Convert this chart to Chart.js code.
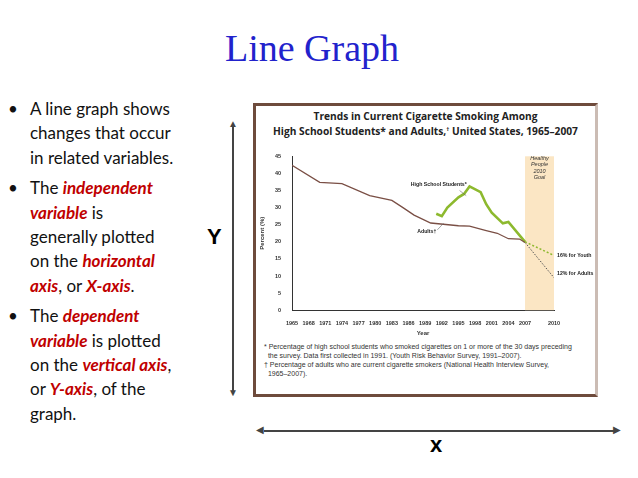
<!DOCTYPE html>
<html><head><meta charset="utf-8">
<script src="https://cdn.jsdelivr.net/npm/chart.js@4"></script>
<style>
body{margin:0;width:638px;height:478px;background:#fff;position:relative;overflow:hidden;font-family:Lato,"Open Sans",sans-serif}
#title{position:absolute;left:0;width:624px;top:26px;text-align:center;font-family:"Liberation Serif",serif;font-size:38px;color:#2222cc}
#bul{position:absolute;left:8px;top:97px;width:220px;font-size:17px;line-height:24.4px;color:#111;white-space:nowrap}
#bul .b{position:relative;padding-left:22px;margin-bottom:6px}
#bul .b:before{content:"•";position:absolute;left:0;top:0}
.r{color:#c00000;font-weight:bold;font-style:italic}
#box{position:absolute;left:253px;top:103px;width:339px;height:288px;border:3px solid #6e4b3c;border-right-color:#cbbcb4}
#ct{position:absolute;left:0;top:4px;width:339px;text-align:center;font-family:"Open Sans",sans-serif;font-weight:bold;font-size:10.2px;line-height:13px;color:#222}
#cw{position:absolute;left:2px;top:44px;width:336px;height:188px}
#fn{position:absolute;left:8px;top:236px;width:330px;font-family:"Liberation Sans",sans-serif;font-size:7px;line-height:9px;color:#333;white-space:nowrap}
.ar{position:absolute;background:#444}
</style></head><body>
<div id="title">Line Graph</div>
<div id="bul">
<div class="b">A line graph shows<br>changes that occur<br>in related variables.</div>
<div class="b">The <span class="r">independent</span><br><span class="r">variable</span> is<br>generally plotted<br>on the <span class="r">horizontal</span><br><span class="r">axis</span>, or <span class="r">X-axis</span>.</div>
<div class="b">The <span class="r">dependent</span><br><span class="r">variable</span> is plotted<br>on the <span class="r">vertical axis</span>,<br>or <span class="r">Y-axis</span>, of the<br>graph.</div>
</div>
<div class="ar" style="left:232px;top:124px;width:1.5px;height:270px"></div>
<div style="position:absolute;left:228px;top:117px;font-size:10px;color:#444">▲</div>
<div style="position:absolute;left:228px;top:386px;font-size:10px;color:#444">▼</div>
<div style="position:absolute;left:207px;top:224px;font-size:22px;font-weight:bold;font-family:'Liberation Sans',sans-serif">Y</div>
<div class="ar" style="left:264px;top:430px;width:352px;height:1.5px"></div>
<div style="position:absolute;left:256px;top:423px;font-size:10px;color:#444">◀</div>
<div style="position:absolute;left:613px;top:423px;font-size:10px;color:#444">▶</div>
<div style="position:absolute;left:430px;top:432px;font-size:22px;font-weight:bold;font-family:'Liberation Sans',sans-serif">x</div>
<div id="box">
<div id="ct">Trends in Current Cigarette Smoking Among<br>High School Students* and Adults,<sup style="font-size:6px">†</sup> United States, 1965–2007</div>
<div id="cw"><canvas id="c"></canvas></div>
<div id="fn">* Percentage of high school students who smoked cigarettes on 1 or more of the 30 days preceding<br>&nbsp;&nbsp;the survey. Data first collected in 1991. (Youth Risk Behavior Survey, 1991–2007).<br>† Percentage of adults who are current cigarette smokers (National Health Interview Survey,<br>&nbsp;&nbsp;1965–2007).</div>
</div>
<script>
const tickYears=[1965,1968,1971,1974,1977,1980,1983,1986,1989,1992,1995,1998,2001,2004,2007,2010];
const adultYears=[1965,1970,1974,1979,1983,1985,1987,1990,1995,1997,2000,2002,2004,2006,2007];
const adultVals=[42.4,37.4,37.0,33.5,32.1,30.0,27.8,25.5,24.7,24.6,23.3,22.5,20.9,20.8,19.8];
const youthYears=[1991,1992,1993,1995,1996,1997,1999,2000,2001,2003,2004,2007];
const youthVals=[28.2,27.5,30.0,33.0,34.0,36.2,34.5,31.0,28.5,25.4,25.8,20.0];
const projYears=[2007,2010];
const youthGoal=[20.0,16.0];
const adultGoal=[19.8,9.5];
const yTicks=[0,5,10,15,20,25,30,35,40,45];
function sx(y){return y<=2007?(y-1965)/3:14+(y-2007)/3*1.74;}
const pts=(ys,vs)=>ys.map((y,i)=>({x:sx(y),y:vs[i]}));
const deco={id:'deco',beforeDatasetsDraw(ch){const {ctx,scales:{x,y}}=ch;
 ctx.save();ctx.fillStyle='#fbe6c4';const a=x.getPixelForValue(sx(2007)),b=x.getPixelForValue(sx(2010));
 ctx.fillRect(a,y.getPixelForValue(45),b-a,y.getPixelForValue(0)-y.getPixelForValue(45));ctx.restore();},
 afterDatasetsDraw(ch){const {ctx,scales:{x,y}}=ch;ctx.save();
 ctx.fillStyle='#333';ctx.font='italic 5.5px "Liberation Sans"';ctx.textAlign='center';
 const cx=(x.getPixelForValue(sx(2007))+x.getPixelForValue(sx(2010)))/2;
 ['Healthy','People','2010','Goal'].forEach((t,i)=>ctx.fillText(t,cx,y.getPixelForValue(44)+i*6.5));
 ctx.font='bold 5.2px "Liberation Sans"';ctx.textAlign='left';ctx.fillStyle='#222';
 ctx.fillText('16% for Youth',x.getPixelForValue(sx(2010))+3,y.getPixelForValue(16)+2);
 ctx.fillText('12% for Adults',x.getPixelForValue(sx(2010))+3,y.getPixelForValue(11)+2);
 ctx.textAlign='right';
 ctx.fillText('High School Students*',x.getPixelForValue(sx(1996.5)),y.getPixelForValue(36.2));
 ctx.fillText('Adults†',x.getPixelForValue(sx(1991)),y.getPixelForValue(22.6));
 ctx.strokeStyle='#666';ctx.lineWidth=0.6;ctx.beginPath();
 ctx.moveTo(x.getPixelForValue(sx(1995.2)),y.getPixelForValue(35));ctx.lineTo(x.getPixelForValue(sx(1996.4)),y.getPixelForValue(33.5));
 ctx.moveTo(x.getPixelForValue(sx(1991.2)),y.getPixelForValue(23.5));ctx.lineTo(x.getPixelForValue(sx(1992.3)),y.getPixelForValue(25.4));ctx.stroke();
 ctx.restore();}};
new Chart(document.getElementById('c'),{type:'scatter',
 data:{datasets:[
  {data:pts(adultYears,adultVals),showLine:true,borderColor:'#7a4f45',borderWidth:1.3,pointRadius:0,tension:0},
  {data:pts(youthYears,youthVals),showLine:true,borderColor:'#8db92e',borderWidth:2.6,pointRadius:0,tension:0},
  {data:pts(projYears,youthGoal),showLine:true,borderColor:'#8db92e',borderWidth:1.5,borderDash:[2,2],pointRadius:0},
  {data:pts(projYears,adultGoal),showLine:true,borderColor:'#555',borderWidth:1,borderDash:[1.5,1.5],pointRadius:0}]},
 options:{animation:false,responsive:true,maintainAspectRatio:false,
  layout:{padding:{top:5,right:40,left:0,bottom:0}},
  plugins:{legend:{display:false},tooltip:{enabled:false}},
  scales:{
   x:{type:'linear',min:0,max:sx(2010),grid:{display:false,drawTicks:true},border:{color:'#333'},
    afterBuildTicks:a=>{a.ticks=tickYears.map(t=>({value:sx(t)}));},
    ticks:{font:{size:5.5,weight:'bold'},color:'#333',maxRotation:0,autoSkip:false,padding:2,
     callback:(v)=>{const i=tickYears.findIndex(t=>Math.abs(sx(t)-v)<1e-6);return i<0?'':tickYears[i];}},
    title:{display:true,text:'Year',font:{size:6,weight:'bold'},color:'#333',padding:1}},
   y:{min:0,max:45,grid:{display:false},border:{color:'#333'},
    afterBuildTicks:a=>{a.ticks=yTicks.map(v=>({value:v}));},
    afterFit:a=>{a.width=34;},
    ticks:{font:{size:5.5,weight:'bold'},color:'#333',padding:3},
    title:{display:true,text:'Percent (%)',font:{size:6,weight:'bold'},color:'#333',padding:1}}}},
 plugins:[deco]});
</script>
</body></html>
